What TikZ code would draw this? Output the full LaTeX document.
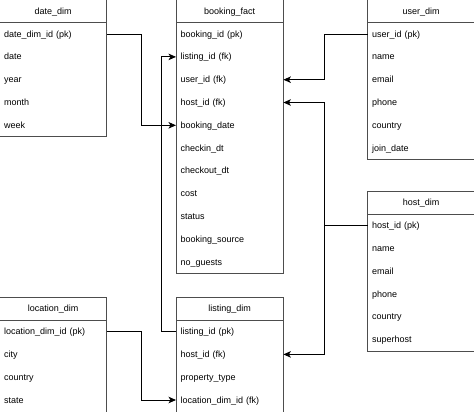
\documentclass[tikz,border=0pt]{standalone}
\usepackage{fontspec}
\setmainfont{Liberation Sans}
\usetikzlibrary{arrows.meta,calc}
\definecolor{boxline}{HTML}{4D4D4D}
\newcommand\ertable[5]{%
  \node[titlecell] (#1-h) at (#2,#3) {#4};
  \foreach \f [count=\i] in {#5} {%
    \node[field] (#1-\i) at ({#2},{#3+23+(\i-1)*22.8}) {\f};
    \xdef\erlast{\i}}%
}
\begin{document}
\begin{tikzpicture}[x=1pt,y=-1pt,
  cellfont/.style={font=\fontsize{9}{10}\selectfont, text height=6pt, text depth=0pt},
  field/.style={cellfont, anchor=north west, minimum width=107pt, minimum height=22.8pt,
    inner xsep=4.5pt, inner ysep=0pt, text width=98pt, align=left},
  titlecell/.style={cellfont, anchor=north west, minimum width=107pt, minimum height=23pt,
    inner xsep=4.5pt, inner ysep=0pt, text width=98pt, align=center},
  frame/.style={draw=boxline, line width=0.9pt},
  link/.style={draw=black, line width=0.9pt, -{Stealth[length=7.5pt,width=6.5pt,inset=2pt]}},
  plainlink/.style={draw=black, line width=0.9pt}
]
\useasboundingbox (0,0) rectangle (474,412);
\clip (0,0) rectangle (474,412);

% date_dim
\ertable{date}{-0.5}{-0.5}{date\_dim}{date\_dim\_id (pk),date,year,month,week}
\draw[frame] (date-h.north west) rectangle (date-\erlast.south east);
\draw[frame] (date-h.south west) -- (date-h.south east);

% booking_fact
\ertable{fact}{176}{-0.5}{booking\_fact}{booking\_id (pk),listing\_id (fk),user\_id (fk),host\_id (fk),booking\_date,checkin\_dt,checkout\_dt,cost,status,booking\_source,no\_guests}
\draw[frame] (fact-h.north west) rectangle (fact-\erlast.south east);
\draw[frame] (fact-h.south west) -- (fact-h.south east);

% user_dim
\ertable{user}{367.5}{-0.5}{user\_dim}{user\_id (pk),name,email,phone,country,join\_date}
\draw[frame] (user-h.north west) rectangle (user-\erlast.south east);
\draw[frame] (user-h.south west) -- (user-h.south east);

% host_dim
\ertable{host}{367.5}{191}{host\_dim}{host\_id (pk),name,email,phone,country,superhost}
\draw[frame] (host-h.north west) rectangle (host-\erlast.south east);
\draw[frame] (host-h.south west) -- (host-h.south east);

% location_dim
\ertable{loc}{-0.5}{297}{location\_dim}{location\_dim\_id (pk),city,country,state}
\draw[frame] (loc-h.north west) rectangle ([yshift=-20pt]loc-\erlast.south east);
\draw[frame] (loc-h.south west) -- (loc-h.south east);

% listing_dim
\ertable{list}{176}{297}{listing\_dim}{listing\_id (pk),host\_id (fk),property\_type,location\_dim\_id (fk)}
\draw[frame] (list-h.north west) rectangle ([yshift=-20pt]list-\erlast.south east);
\draw[frame] (list-h.south west) -- (list-h.south east);

% connectors
\draw[link] (date-1.east) -| ($(date-1.east)!0.5!(fact-5.west)$) |- (fact-5.west);
\draw[link] (list-1.west) -- ++(-14.5,0) |- (fact-2.west);
\draw[link] (user-1.west) -- ++(-43,0) |- (fact-3.east);
\draw[link] (host-1.west) -- ++(-43,0) |- (fact-4.east);
\draw[link] (host-1.west) -- ++(-43,0) |- (list-2.east);
\draw[link] (loc-1.east) -| ($(loc-1.east)!0.5!(list-4.west)$) |- (list-4.west);
\end{tikzpicture}
\end{document}
